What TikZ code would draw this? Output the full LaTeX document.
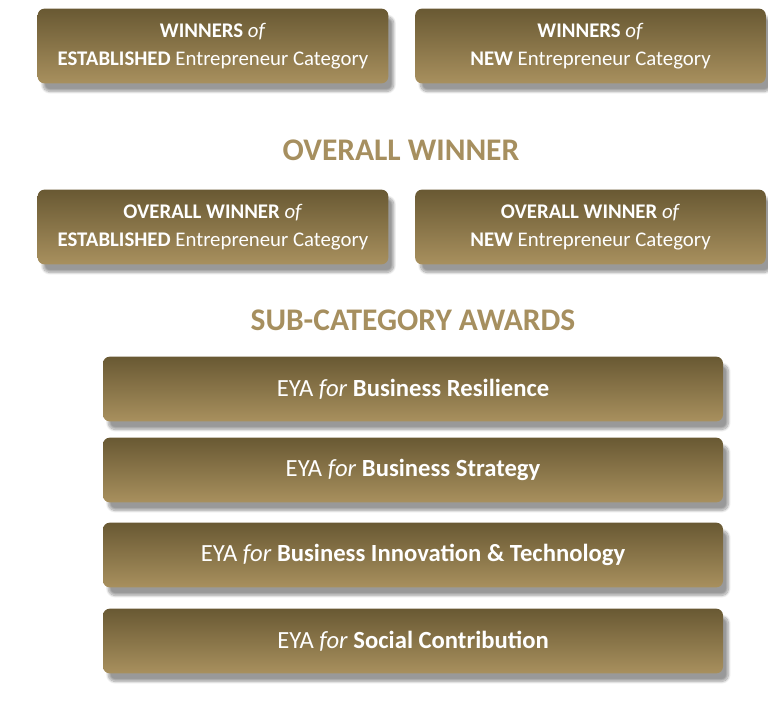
\documentclass[tikz,border=0pt]{standalone}
\usepackage{fontspec}
\setmainfont{Carlito}
\usetikzlibrary{shadows.blur}
\definecolor{golddark}{HTML}{695933}
\definecolor{goldlight}{HTML}{A8905E}
\definecolor{goldtext}{HTML}{A68F5F}
\begin{document}
\begin{tikzpicture}[x=0.75pt,y=-0.75pt,
  award/.style={rounded corners=5pt, top color=golddark, bottom color=goldlight,
    text=white, align=center, inner sep=0pt,
    blur shadow={shadow xshift=4pt, shadow yshift=-6pt, shadow opacity=40, shadow blur steps=12}},
  winner/.style={award, minimum width=263pt, minimum height=56pt,
    font=\fontsize{15.6}{20.5}\selectfont},
  subaward/.style={award, minimum width=465pt, minimum height=48.5pt,
    font=\fontsize{18.5}{22}\selectfont},
  heading/.style={text=goldtext, font=\fontsize{23.6}{26}\selectfont\bfseries}]
\useasboundingbox (0,0) rectangle (768,708);
\node [winner] (estwin) at (213,46) {\textbf{WINNERS} \textit{of}\\\textbf{ESTABLISHED} Entrepreneur Category};
\node [winner] (newwin) at (590.5,46) {\textbf{WINNERS} \textit{of}\\\textbf{NEW} Entrepreneur Category};
\node [heading] (overall) at (401,150) {OVERALL WINNER};
\node [winner] (estover) at (213,227) {\textbf{OVERALL WINNER} \textit{of}\\\textbf{ESTABLISHED} Entrepreneur Category};
\node [winner] (newover) at (590.5,227) {\textbf{OVERALL WINNER} \textit{of}\\\textbf{NEW} Entrepreneur Category};
\node [heading] (subcat) at (413,320) {SUB-CATEGORY AWARDS};
\node [subaward] (resil) at (413,389) {EYA \textit{for} \textbf{Business Resilience}};
\node [subaward] (strat) at (413,470) {EYA \textit{for} \textbf{Business Strategy}};
\node [subaward] (innov) at (413,555) {EYA \textit{for} \textbf{Business Innovation \& Technology}};
\node [subaward] (social) at (413,641) {EYA \textit{for} \textbf{Social Contribution}};
\end{tikzpicture}
\end{document}
